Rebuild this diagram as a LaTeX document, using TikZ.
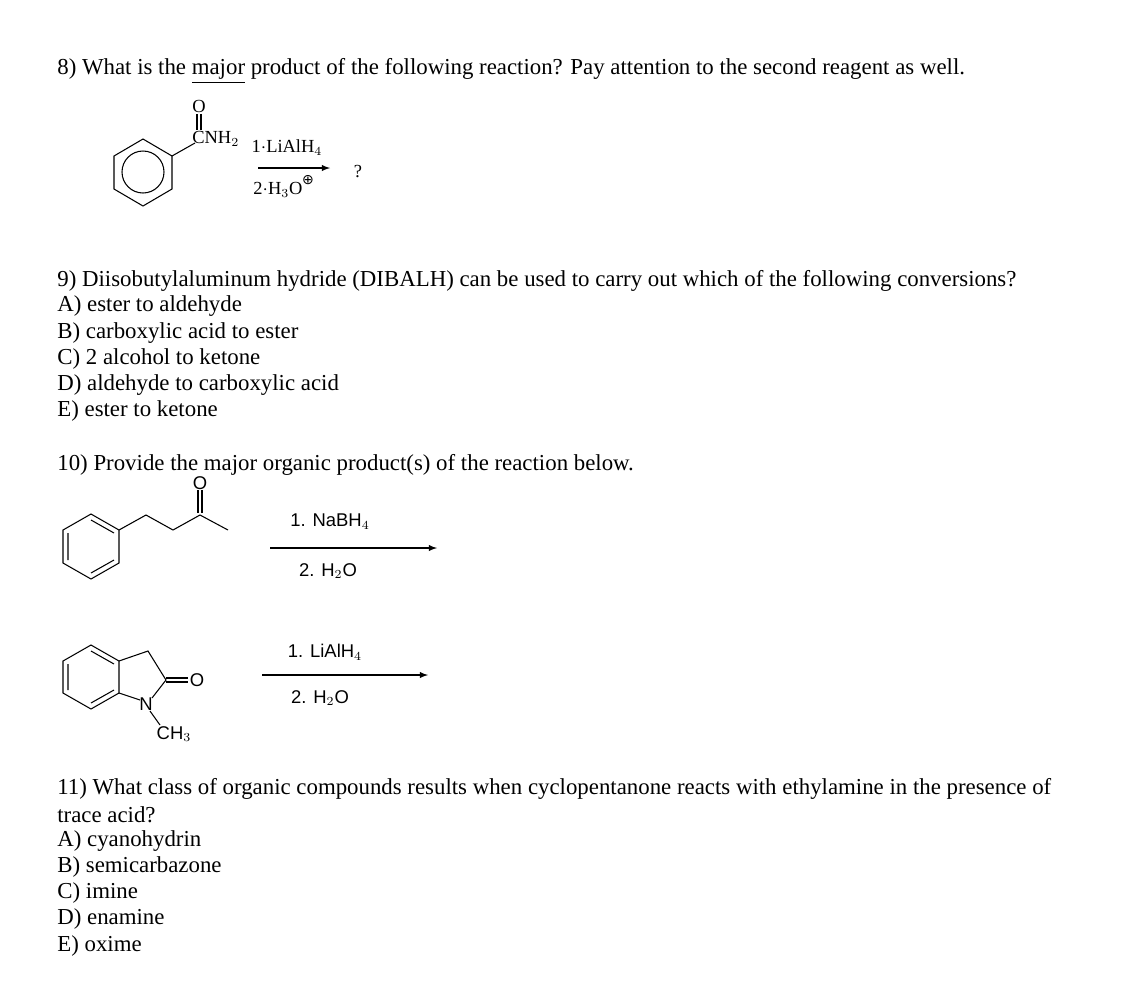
\documentclass[tikz,border=0pt]{standalone}
\usepackage{fontspec}
\setmainfont{Liberation Serif}
\newfontfamily\sansf{Liberation Sans}
\newfontfamily\symf{DejaVu Sans}
\begin{document}
\begin{tikzpicture}[x=0.02cm,y=-0.02cm,
  txt/.style={anchor=west,inner sep=0,yshift=-0.06cm,font=\fontsize{13}{14}\selectfont},
  lbl/.style={inner sep=0,font=\sansf\fontsize{10.5}{11}\selectfont},
  lblser/.style={inner sep=0,font=\fontsize{10.5}{11}\selectfont},
  bond/.style={line width=0.6pt},
  rxn/.style={line width=0.6pt,-latex}]
\useasboundingbox (0,0) rectangle (1147,985);
% texts
\node[txt] (q8) at (57,68) {8) What is the \underline{major} product of the following reaction? Pay attention to the second reagent as well.};
\node[txt] (q9) at (57,278) {9) Diisobutylaluminum hydride (DIBALH) can be used to carry out which of the following conversions?};
\node[txt] (q9a) at (57,303) {A) ester to aldehyde};
\node[txt] (q9b) at (57,330) {B) carboxylic acid to ester};
\node[txt] (q9c) at (57,356) {C) 2 alcohol to ketone};
\node[txt] (q9d) at (57,382) {D) aldehyde to carboxylic acid};
\node[txt] (q9e) at (57,408) {E) ester to ketone};
\node[txt] (q10) at (57,462) {10) Provide the major organic product(s) of the reaction below.};
\node[txt] (q11) at (57,786) {11) What class of organic compounds results when cyclopentanone reacts with ethylamine in the presence of};
\node[txt] (q11b) at (57,812) {trace acid?};
\node[txt] (q11a) at (57,838) {A) cyanohydrin};
\node[txt] (q11bb) at (57,864) {B) semicarbazone};
\node[txt] (q11c) at (57,890) {C) imine};
\node[txt] (q11d) at (57,916) {D) enamine};
\node[txt] (q11e) at (57,943) {E) oxime};
% Q8 structure
\draw[bond] (143,139)--(172,156)--(172,189)--(143,206)--(114,189)--(114,156)--cycle;
\draw[bond] (143,172) circle [radius=21];
\coordinate (c8) at (195,143);
\draw[bond] (172,156)--(c8);
\draw[bond] (197,130)--(197,114) (201,130)--(201,114);
\node[lblser] (o8) at (199,106) {O};
\node[lblser,anchor=west] (cnh2) at (192,139) {CNH$_2$};
\node[lblser] (r81) at (287,148) {1$\cdot$LiAlH$_4$};
\node[lblser] (r82) at (278,190) {2$\cdot$H$_3$O};
\node[inner sep=0,font=\symf\fontsize{8}{9}\selectfont] (plus) at (308,180) {⊕};
\coordinate (a8s) at (258,168); \coordinate (a8e) at (330,168);
\draw[rxn] (a8s)--(a8e);
\node[lblser] (q8q) at (358,172) {?};
% Q10 first
\draw[bond] (91,514)--(119,530)--(119,563)--(91,579)--(63,563)--(63,530)--cycle;
\draw[bond] (91,520)--(114,533) (114,560)--(91,573) (68,560)--(68,533);
\draw[bond] (119,530)--(146,515)--(173,530)--(200,515)--(228,530);
\draw[bond] (198,513)--(198,490) (202,513)--(202,490);
\node[lbl] (o1) at (200,483) {O};
\coordinate (a1s) at (270,548); \coordinate (a1e) at (437,548);
\draw[rxn] (a1s)--(a1e);
\node[lbl] (r11) at (330,522) {1. NaBH$_4$};
\node[lbl] (r12) at (328,571) {2. H$_2$O};
% Q10 second
\draw[bond] (91,645)--(119,661)--(119,693)--(91,709)--(63,693)--(63,661)--cycle;
\draw[bond] (91,651)--(114,664) (114,690)--(91,703) (68,690)--(68,664);
\draw[bond] (119,661)--(148,651)--(166,680)--(152,698);
\draw[bond] (119,693)--(140,700);
\draw[bond] (166,678)--(188,678) (166,682)--(188,682);
\node[lbl] (o2) at (197,680) {O};
\node[lbl] (n2) at (146,704) {N};
\draw[bond] (150,711)--(160,725);
\node[lbl] (ch3) at (174,734) {CH$_3$};
\coordinate (a2s) at (262,675); \coordinate (a2e) at (428,675);
\draw[rxn] (a2s)--(a2e);
\node[lbl] (r21) at (325,652) {1. LiAlH$_4$};
\node[lbl] (r22) at (320,698) {2. H$_2$O};
\end{tikzpicture}
\end{document}
